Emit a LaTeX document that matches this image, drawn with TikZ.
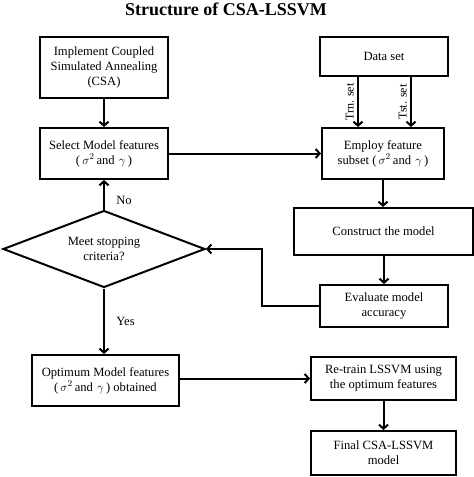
\documentclass[tikz,border=0pt]{standalone}
\usepackage{fontspec}
\setmainfont{Liberation Serif}
\usetikzlibrary{shapes.geometric,arrows.meta}
\begin{document}
\begin{tikzpicture}[x=1pt,y=-1pt,
  box/.style={draw,line width=2pt,align=center,inner sep=1pt,font=\fontsize{12.6}{15}\selectfont},
  arr/.style={line width=2pt,-{Straight Barb[length=4pt,width=9pt]}},
  lbl/.style={font=\fontsize{12.6}{14}\selectfont}]
\useasboundingbox (0,0) rectangle (474,477);
\node[font=\bfseries\fontsize{18}{20}\selectfont] (title) at (226,9) {Structure of CSA-LSSVM};
\node[box,minimum width=128pt,minimum height=61pt] (csa) at (104,67.5) {Implement Coupled\\Simulated Annealing\\(CSA)};
\node[box,minimum width=128pt,minimum height=39pt] (data) at (384,56.5) {Data set};
\node[box,minimum width=128pt,minimum height=51pt] (sel) at (104,153.5) {Select Model features\\(\,$\sigma^2$\,and\,\,$\gamma$\,)};
\node[box,minimum width=122pt,minimum height=51pt] (emp) at (383,153.5) {Employ feature\\subset (\,$\sigma^2$\,and\,\,$\gamma$\,)};
\node[box,minimum width=179pt,minimum height=47pt] (con) at (383.5,231.5) {Construct the model};
\node[box,minimum width=128pt,minimum height=42pt] (ev) at (384,306) {Evaluate model\\accuracy};
\node[box,diamond,aspect=2.6,inner sep=0pt,minimum width=202pt,minimum height=77pt] (dia) at (104,249) {Meet stopping\\criteria?};
\node[box,minimum width=147pt,minimum height=51pt] (opt) at (105.5,380.5) {Optimum Model features\\(\,$\sigma^2$\,and\,\,$\gamma$\,) obtained};
\node[box,minimum width=145pt,minimum height=43pt] (ret) at (383.5,378.5) {Re-train LSSVM using\\the optimum features};
\node[box,minimum width=145pt,minimum height=44pt] (fin) at (383.5,453) {Final CSA-LSSVM\\model};
\draw[arr] (csa) -- (sel);
\draw[arr] (sel) -- (sel -| emp.west);
\draw[arr] ([xshift=-26pt]data.south) -- node[rotate=90,anchor=south,font=\fontsize{12}{13}\selectfont] {Trn. set} ([xshift=-26pt]data.south |- emp.north);
\draw[arr] ([xshift=27pt]data.south) -- node[rotate=90,anchor=south,font=\fontsize{12}{13}\selectfont] {Tst. set} ([xshift=27pt]data.south |- emp.north);
\draw[arr] (emp.south) -- (emp.south |- con.north);
\draw[arr] (con.south -| ev.north) -- (ev.north);
\draw[arr] (ev.west) -- ++(-57,0) |- (dia.east);
\draw[arr] (dia.north) -- node[lbl,right=8pt,pos=0.3] {No} (sel.south);
\draw[arr] (dia.south) -- node[lbl,right=8pt,pos=0.5] {Yes} (dia.south |- opt.north);
\draw[arr] (opt.east |- ret.west) -- (ret.west);
\draw[arr] (ret) -- (fin);
\end{tikzpicture}
\end{document}
